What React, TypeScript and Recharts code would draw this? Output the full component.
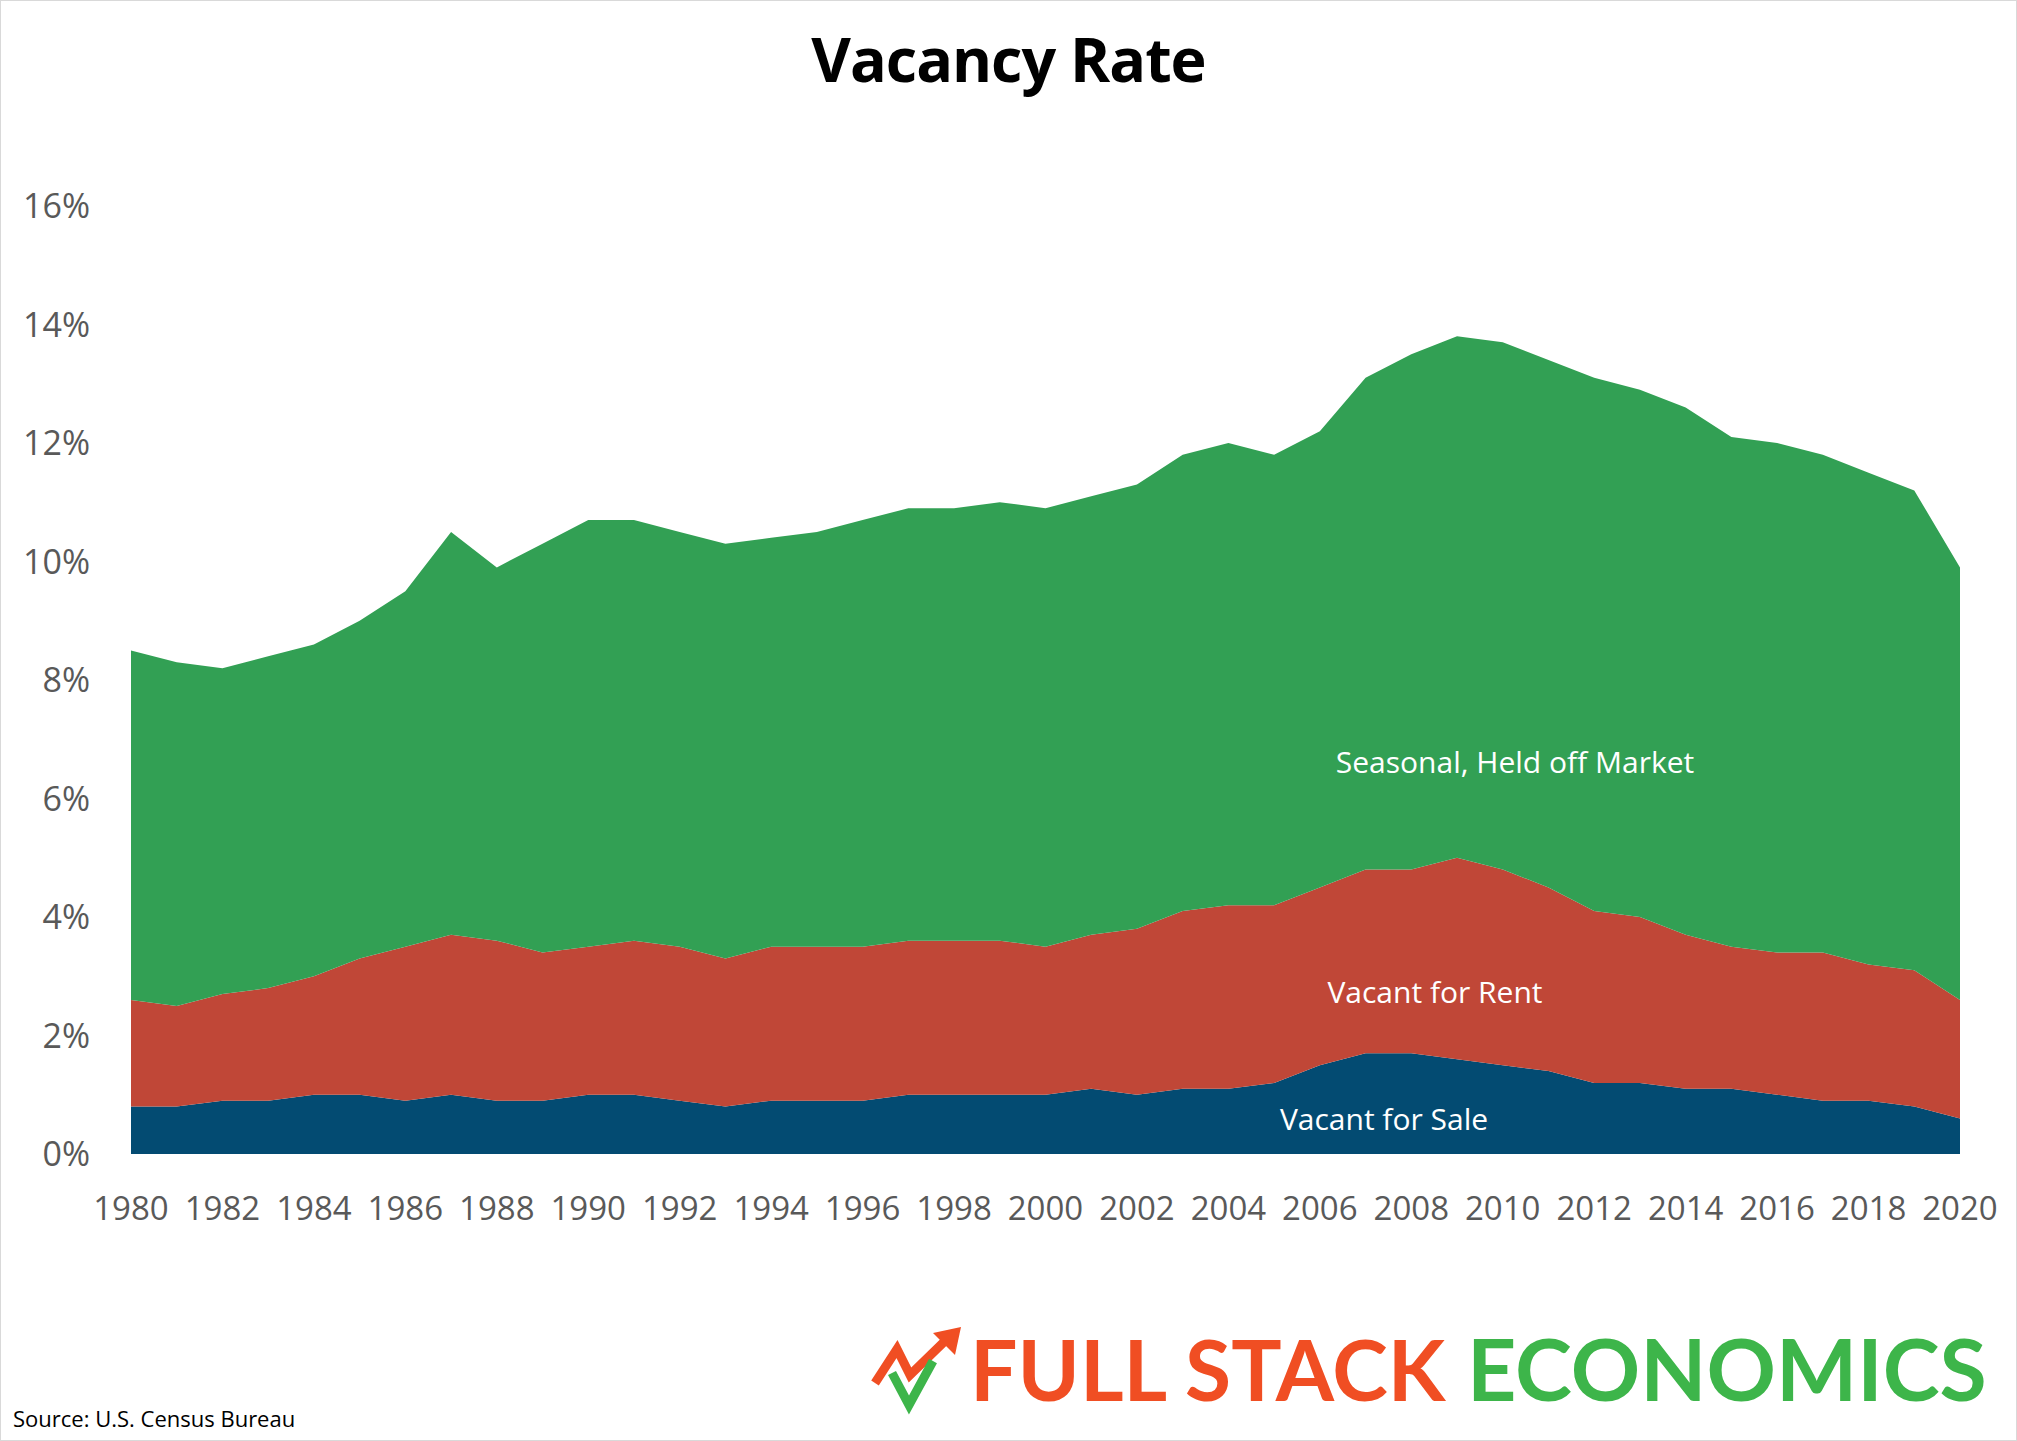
import React from 'react';
import { AreaChart, Area, XAxis, YAxis } from 'recharts';

const YEARS = [
  1980, 1981, 1982, 1983, 1984, 1985, 1986, 1987, 1988, 1989,
  1990, 1991, 1992, 1993, 1994, 1995, 1996, 1997, 1998, 1999,
  2000, 2001, 2002, 2003, 2004, 2005, 2006, 2007, 2008, 2009,
  2010, 2011, 2012, 2013, 2014, 2015, 2016, 2017, 2018, 2019, 2020,
];

// percent of housing units
const FOR_SALE = [
  0.8, 0.8, 0.9, 0.9, 1.0, 1.0, 0.9, 1.0, 0.9, 0.9,
  1.0, 1.0, 0.9, 0.8, 0.9, 0.9, 0.9, 1.0, 1.0, 1.0,
  1.0, 1.1, 1.0, 1.1, 1.1, 1.2, 1.5, 1.7, 1.7, 1.6,
  1.5, 1.4, 1.2, 1.2, 1.1, 1.1, 1.0, 0.9, 0.9, 0.8, 0.6,
];

const FOR_RENT = [
  1.8, 1.7, 1.8, 1.9, 2.0, 2.3, 2.6, 2.7, 2.7, 2.5,
  2.5, 2.6, 2.6, 2.5, 2.6, 2.6, 2.6, 2.6, 2.6, 2.6,
  2.5, 2.6, 2.8, 3.0, 3.1, 3.0, 3.0, 3.1, 3.1, 3.4,
  3.3, 3.1, 2.9, 2.8, 2.6, 2.4, 2.4, 2.5, 2.3, 2.3, 2.0,
];

const SEASONAL = [
  5.9, 5.8, 5.5, 5.6, 5.6, 5.7, 6.0, 6.8, 6.3, 6.9,
  7.2, 7.1, 7.0, 7.0, 6.9, 7.0, 7.2, 7.3, 7.3, 7.4,
  7.4, 7.4, 7.5, 7.7, 7.8, 7.6, 7.7, 8.3, 8.7, 8.8,
  8.9, 8.9, 9.0, 8.9, 8.9, 8.6, 8.6, 8.4, 8.3, 8.1, 7.3,
];

const X_TICKS = [
  1980, 1982, 1984, 1986, 1988, 1990, 1992, 1994, 1996, 1998, 2000,
  2002, 2004, 2006, 2008, 2010, 2012, 2014, 2016, 2018, 2020,
];
const Y_TICKS = [0, 2, 4, 6, 8, 10, 12, 14, 16];

const data = YEARS.map((year, i) => ({
  year,
  sale: FOR_SALE[i],
  rent: FOR_RENT[i],
  seasonal: SEASONAL[i],
}));

const FONT = '"Open Sans", "Noto Sans", sans-serif';
const X_TICK = { fontSize: 33, fill: '#595959', fontFamily: FONT };
const Y_TICK = { fontSize: 34, fill: '#595959', fontFamily: FONT };

function Logo() {
  return (
    <svg
      width={1140}
      height={120}
      style={{ position: 'absolute', left: 866, top: 1316 }}
    >
      {/* zigzag arrow */}
      <polyline
        points="8,66 30,32 43,58 80,22"
        fill="none"
        stroke="#F04E23"
        strokeWidth={9}
      />
      <polygon points="94,10 66,16 88,38" fill="#F04E23" />
      <polyline
        points="25,56 42,88 66,44"
        fill="none"
        stroke="#3DB54A"
        strokeWidth={9}
      />
      <text
        x={103}
        y={84}
        fontFamily="Lato, sans-serif"
        fontWeight={700}
        fontSize={84}
        fill="#F04E23"
      >
        FULL STACK
      </text>
      <text
        x={600}
        y={84}
        fontFamily="Lato, sans-serif"
        fontWeight={700}
        fontSize={86}
        fill="#3DB54A"
      >
        ECONOMICS
      </text>
    </svg>
  );
}

const labelStyle: React.CSSProperties = {
  position: 'absolute',
  color: '#fff',
  fontFamily: FONT,
  fontSize: 30,
  whiteSpace: 'nowrap',
  transform: 'translate(-50%, -50%)',
};

export default function App() {
  return (
    <div
      style={{
        position: 'absolute',
        left: 0,
        top: 0,
        width: 2017,
        height: 1441,
        boxSizing: 'border-box',
        border: '1px solid #d9d9d9',
        background: '#fff',
        overflow: 'hidden',
      }}
    >
      <div
        style={{
          position: 'absolute',
          left: 0,
          right: 0,
          top: 20,
          textAlign: 'center',
          fontFamily: FONT,
          fontWeight: 700,
          fontSize: 61,
          letterSpacing: -1,
          color: '#000',
          lineHeight: '76px',
        }}
      >
        Vacancy Rate
      </div>

      <div style={{ position: 'absolute', left: -1, top: -1 }}>
        <AreaChart
          width={2017}
          height={1441}
          data={data}
          margin={{ top: 206, right: 57, left: 21, bottom: 227 }}
        >
          <XAxis
            dataKey="year"
            type="number"
            domain={[1980, 2020]}
            ticks={X_TICKS}
            axisLine={false}
            tickLine={false}
            tickSize={0}
            tickMargin={43}
            height={60}
            tick={X_TICK}
            interval={0}
          />
          <YAxis
            domain={[0, 16]}
            ticks={Y_TICKS}
            axisLine={false}
            tickLine={false}
            tickSize={0}
            tickMargin={41}
            width={110}
            tick={Y_TICK}
            tickFormatter={(v) => `${v}%`}
          />
          <Area
            type="linear"
            dataKey="sale"
            stackId="1"
            stroke="none"
            fill="#034B72"
            fillOpacity={1}
            isAnimationActive={false}
          />
          <Area
            type="linear"
            dataKey="rent"
            stackId="1"
            stroke="none"
            fill="#C04737"
            fillOpacity={1}
            isAnimationActive={false}
          />
          <Area
            type="linear"
            dataKey="seasonal"
            stackId="1"
            stroke="none"
            fill="#32A054"
            fillOpacity={1}
            isAnimationActive={false}
          />
        </AreaChart>
      </div>

      <div style={{ ...labelStyle, left: 1514, top: 760 }}>Seasonal, Held off Market</div>
      <div style={{ ...labelStyle, left: 1434, top: 990 }}>Vacant for Rent</div>
      <div style={{ ...labelStyle, left: 1383, top: 1117 }}>Vacant for Sale</div>

      <Logo />

      <div
        style={{
          position: 'absolute',
          left: 12,
          top: 1402,
          fontFamily: FONT,
          fontSize: 22,
          color: '#000',
        }}
      >
        Source: U.S. Census Bureau
      </div>
    </div>
  );
}
